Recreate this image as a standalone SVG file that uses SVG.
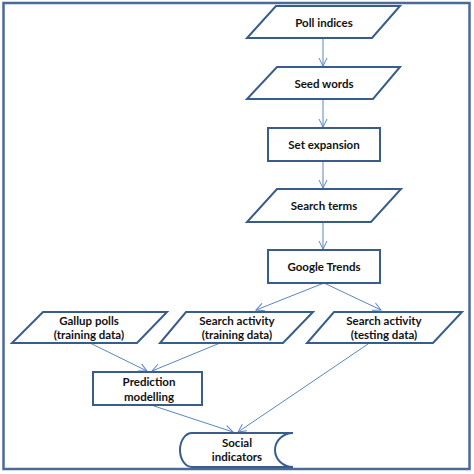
<svg xmlns="http://www.w3.org/2000/svg" width="474" height="474" viewBox="0 0 474 474">
<style>
.n{fill:#fff;stroke:#385d8a;stroke-width:2}
.t{font-family:Lato,"Liberation Sans",sans-serif;font-weight:bold;font-size:11.5px;fill:#111;text-anchor:middle}
.c{fill:none;stroke:#5a86bf;stroke-width:1}
</style>
<defs>
<marker id="ah" markerUnits="userSpaceOnUse" markerWidth="10" markerHeight="10" viewBox="0 0 10 10" refX="9" refY="5" orient="auto">
<path d="M1,1 L9,5 L1,9" fill="none" stroke="#5a86bf" stroke-width="1"/>
</marker>
</defs>
<rect x="0" y="0" width="474" height="474" fill="#fff"/>
<rect x="3.5" y="3" width="466" height="466" fill="none" stroke="#4a6a9a" stroke-width="2.5"/>
<g id="connectors">
<line class="c" x1="323" y1="38" x2="323" y2="66" marker-end="url(#ah)"/>
<line class="c" x1="323" y1="99" x2="323" y2="127" marker-end="url(#ah)"/>
<line class="c" x1="323" y1="161" x2="323" y2="188" marker-end="url(#ah)"/>
<line class="c" x1="323" y1="222" x2="323" y2="249" marker-end="url(#ah)"/>
<line class="c" x1="324" y1="283" x2="256" y2="310" marker-end="url(#ah)"/>
<line class="c" x1="324" y1="283" x2="381" y2="310" marker-end="url(#ah)"/>
<line class="c" x1="90" y1="343" x2="147" y2="371" marker-end="url(#ah)"/>
<line class="c" x1="220" y1="343" x2="152" y2="371" marker-end="url(#ah)"/>
<line class="c" x1="151" y1="405" x2="233" y2="432" marker-end="url(#ah)"/>
<line class="c" x1="368" y1="344" x2="238" y2="432" marker-end="url(#ah)"/>
</g>
<g id="poll">
<polygon class="n" points="276,6 400,6 372,38 247,38"/>
<text class="t" x="324" y="27">Poll indices</text>
</g>
<g id="seed">
<polygon class="n" points="277,67 400,67 373,99 247,99"/>
<text class="t" x="324" y="88">Seed words</text>
</g>
<g id="setexp">
<rect class="n" x="268" y="128" width="112" height="33"/>
<text class="t" x="324" y="149">Set expansion</text>
</g>
<g id="terms">
<polygon class="n" points="277,189 401,189 371,222 247,222"/>
<text class="t" x="324" y="210">Search terms</text>
</g>
<g id="trends">
<rect class="n" x="268" y="250" width="112" height="33"/>
<text class="t" x="324" y="271">Google Trends</text>
</g>
<g id="gallup">
<polygon class="n" points="43,312 167,312 137,343 12,343"/>
<text class="t" x="89" y="325">Gallup polls</text>
<text class="t" x="89" y="339">(training data)</text>
</g>
<g id="satrain">
<polygon class="n" points="186,312 313,312 283,343 160,343"/>
<text class="t" x="237" y="325">Search activity</text>
<text class="t" x="237" y="339">(training data)</text>
</g>
<g id="satest">
<polygon class="n" points="334,312 462,312 433,343 307,343"/>
<text class="t" x="384" y="325">Search activity</text>
<text class="t" x="384" y="339">(testing data)</text>
</g>
<g id="predict">
<rect class="n" x="93" y="372" width="109" height="33"/>
<text class="t" x="149" y="386">Prediction</text>
<text class="t" x="149" y="401">modelling</text>
</g>
<g id="social">
<path class="n" d="M192,433 L293,433 A18,17 0 0 0 293,467 L192,467 A12,17 0 0 1 192,433 Z"/>
<text class="t" x="237" y="447">Social</text>
<text class="t" x="237" y="461">indicators</text>
</g>
</svg>
